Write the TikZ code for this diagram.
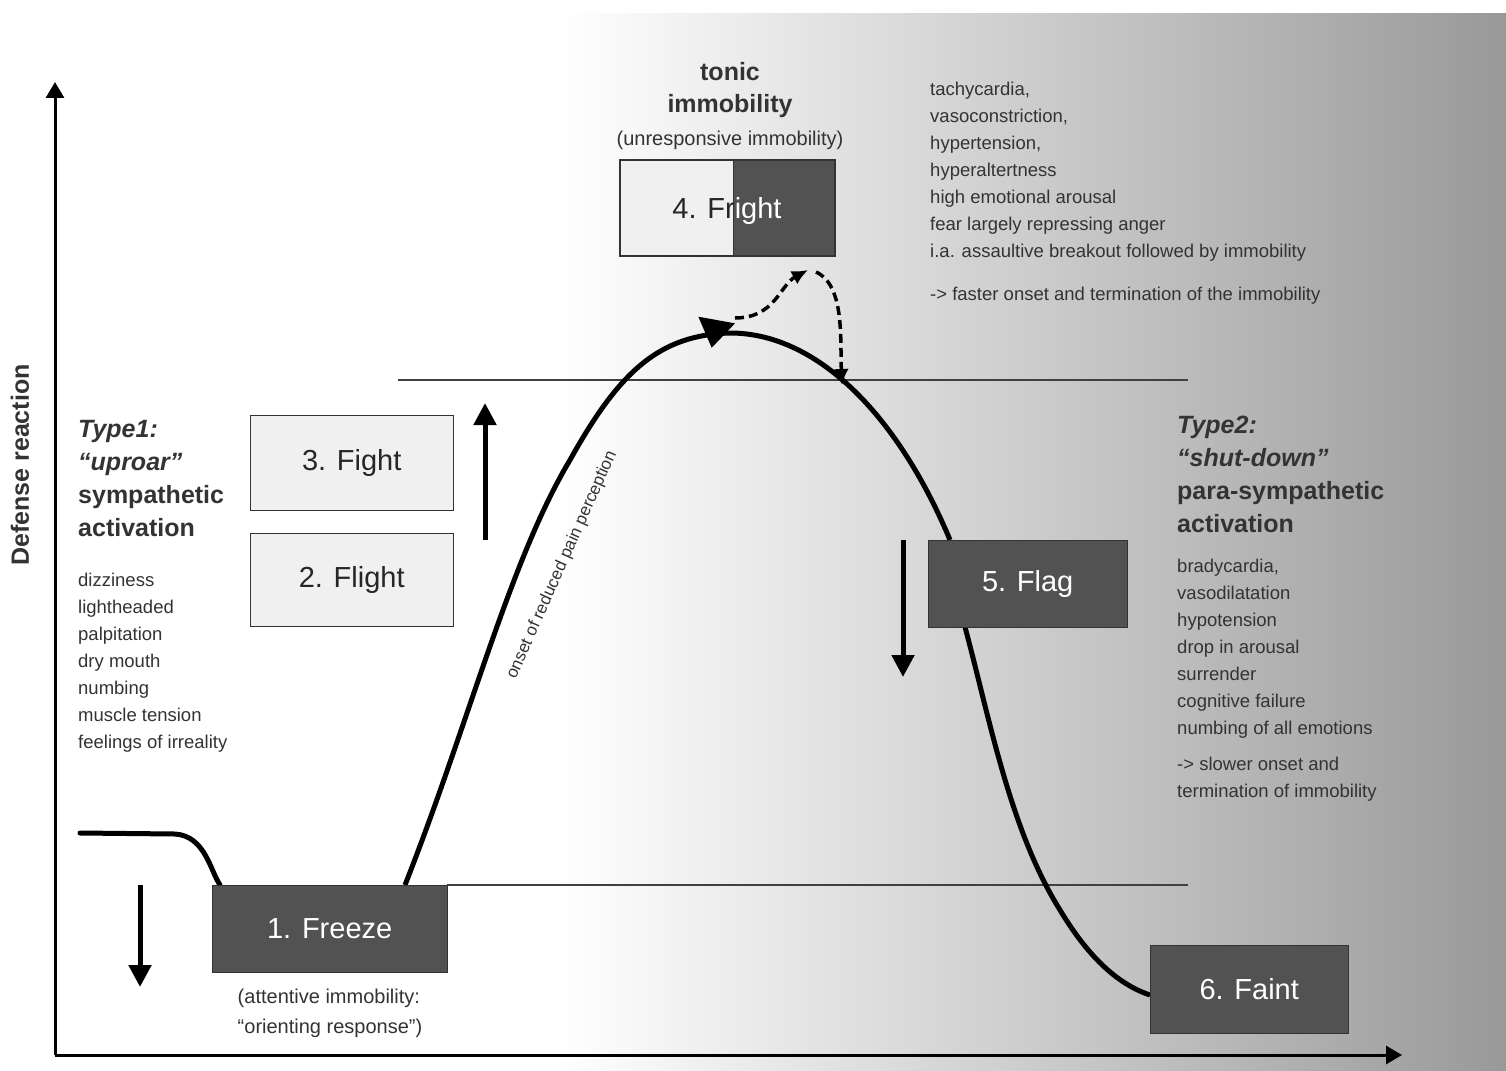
\documentclass[tikz,border=0pt]{standalone}
\usepackage{fontspec}
\setmainfont{Liberation Sans}
\usetikzlibrary{arrows.meta}
\begin{document}
\begin{tikzpicture}[x=1pt,y=-1pt,
  dbox/.style={draw=black!80,fill=black!68,text=white,font=\fontsize{29}{32}\selectfont,inner sep=0pt},
  lbox/.style={draw=black!80,fill=black!6,text=black!85,font=\fontsize{29}{32}\selectfont,inner sep=0pt},
  small/.style={font=\fontsize{18.5}{27}\selectfont,align=left,text=black!80,inner sep=0pt},
  head/.style={font=\bfseries\fontsize{25}{33}\selectfont,align=left,text=black!80,inner sep=0pt},
  arr/.style={line width=5pt,-{Triangle[length=22pt,width=22pt]}},
  dsh/.style={line width=3.5pt,dash pattern=on 9pt off 5pt,-{Latex[length=16pt,width=15pt]}}]
\useasboundingbox (0,0) rectangle (1506,1070);
\fill[white] (0,0) rectangle (1506,1070);
\shade[left color=white,right color=black!40] (560,14) rectangle (1506,1070);
\fill[left color=white,right color=white,opacity=0] (0,0) rectangle (1,1);
% axes
\coordinate (o) at (55,1055);
\coordinate (yt) at (55,82);
\coordinate (xt) at (1402,1055);
\draw[line width=3pt,-{Triangle[length=16pt,width=18pt]}] (o) -- (yt);
\draw[line width=3pt,-{Triangle[length=16pt,width=18pt]}] (o) -- (xt);
\node[rotate=90,font=\bfseries\fontsize{25}{28}\selectfont,text=black!80] (yl) at (20,465) {Defense reaction};
% horizontal lines
\coordinate (h1a) at (398,380); \coordinate (h1b) at (1188,380);
\coordinate (h2a) at (447,885); \coordinate (h2b) at (1188,885);
\draw[line width=1.2pt,black!75] (h1a) -- (h1b);
\draw[line width=1.2pt,black!75] (h2a) -- (h2b);
% curve
\draw[line width=5pt,line cap=round] (80,833) -- (175,834) .. controls (205,836) and (210,870) .. (220,885);
\draw[line width=5pt] (405,885) .. controls (470,720) and (510,560) .. (570,460)
  .. controls (620,370) and (660,335) .. (730,333)
  .. controls (820,333) and (900,420) .. (950,540);
\draw[line width=5pt] (965,627) .. controls (990,720) and (1010,830) .. (1060,910)
  .. controls (1090,960) and (1120,985) .. (1150,995);
\draw[line width=2pt,fill=black] (700,318) -- (733,324) -- (712,346) -- cycle;
% dashed
\draw[dsh] (735,318) .. controls (775,318) and (780,285) .. (808,270);
\draw[dsh] (816,272) .. controls (845,285) and (840,340) .. (842,385);
% boxes
\fill[black!6] (620,160) rectangle (733,256);
\node[dbox,minimum width=102pt,minimum height=96pt,anchor=north west] (fr) at (733,160) {};
\draw[black!80,line width=1.2pt] (620,160) rectangle (835,256);
\node[font=\fontsize{29}{32}\selectfont,text=black!85] (frt) at (727,211) {4. Fr\textcolor{white}{ight}};
\node[lbox,minimum width=203pt,minimum height=95pt,anchor=north west] (fight) at (250,415) {3. Fight};
\node[lbox,minimum width=203pt,minimum height=93pt,anchor=north west] (flight) at (250,533) {2. Flight};
\node[dbox,minimum width=235pt,minimum height=87pt,anchor=north west] (freeze) at (212,885) {1. Freeze};
\node[dbox,minimum width=199pt,minimum height=87pt,anchor=north west] (flag) at (928,540) {5. Flag};
\node[dbox,minimum width=198pt,minimum height=88pt,anchor=north west] (faint) at (1150,945) {6. Faint};
% arrows
\coordinate (a1) at (485,540); \coordinate (a2) at (485,403);
\draw[arr] (a1) -- (a2);
\coordinate (b1) at (903,540); \coordinate (b2) at (903,677);
\draw[arr] (b1) -- (b2);
\coordinate (c1) at (140,885); \coordinate (c2) at (140,987);
\draw[arr] (c1) -- (c2);
% texts
\node[font=\bfseries\fontsize{25}{32}\selectfont,align=center,text=black!80] (ti) at (730,90) {tonic\\immobility};
\node[font=\fontsize{20}{24}\selectfont,text=black!80] (tis) at (730,140) {(unresponsive immobility)};
\node[small,anchor=north west] (rt) at (930,82) {tachycardia,\\vasoconstriction,\\hypertension,\\hyperaltertness\\high emotional arousal\\fear largely repressing anger\\i.a. assaultive breakout followed by immobility};
\node[small,anchor=west] (rt2) at (930,296) {-> faster onset and termination of the immobility};
\node[head,anchor=north west] (t1) at (78,420) {\itshape Type1:\\\itshape “uproar”\\sympathetic\\activation};
\node[small,anchor=north west] (l1) at (78,573) {dizziness\\lightheaded\\palpitation\\dry mouth\\numbing\\muscle tension\\feelings of irreality};
\node[head,anchor=north west] (t2) at (1177,416) {\itshape Type2:\\\itshape “shut-down”\\para-sympathetic\\activation};
\node[small,anchor=north west] (r1) at (1177,559) {bradycardia,\\vasodilatation\\hypotension\\drop in arousal\\surrender\\cognitive failure\\numbing of all emotions};
\node[small,anchor=north west] (r2) at (1177,757) {-> slower onset and\\termination of immobility};
\node[font=\fontsize{20}{30}\selectfont,align=left,text=black!80] (fz) at (330,1013) {(attentive immobility:\\ “orienting response”)};
\node[rotate=66,font=\fontsize{17}{20}\selectfont,text=black!80] (pain) at (562,565) {onset of reduced pain perception};
\end{tikzpicture}
\end{document}
